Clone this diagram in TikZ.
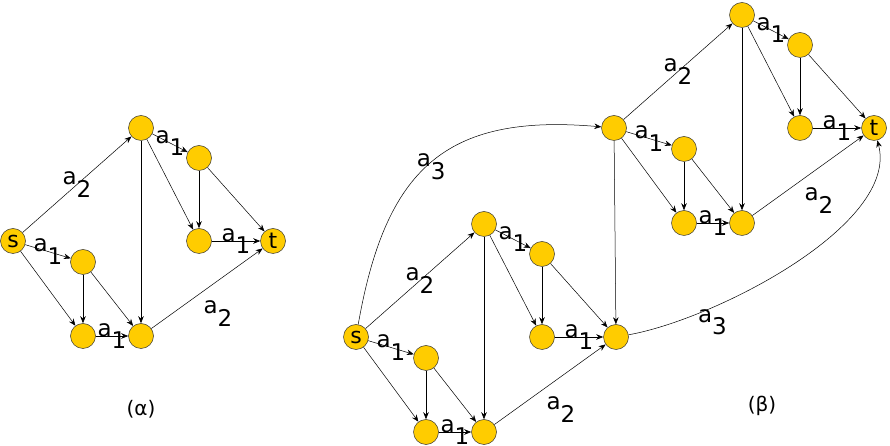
\documentclass[tikz,border=0pt]{standalone}
\usepackage{fontspec}
\setmainfont{DejaVu Sans}
\usetikzlibrary{arrows.meta}
\definecolor{gold}{RGB}{255,204,0}
\newcommand{\asub}[1]{a\raisebox{-0.55em}{#1}}

\tikzset{
  vert/.style={circle,draw=black!80,fill=gold,line width=0.5pt,minimum size=25pt,inner sep=0pt,font=\fontsize{22}{22}\selectfont},
  link/.style={-{Stealth[length=7pt,width=5.5pt]},line width=0.5pt},
  lab/.style={inner sep=0pt,font=\fontsize{23}{23}\selectfont},
  capt/.style={font=\fontsize{20}{20}\selectfont}
}

\begin{document}
\begin{tikzpicture}[x=1pt,y=1pt]
\useasboundingbox (0,0) rectangle (890,446);

%%% Left graph (alpha)
\node[vert] (sA) at (13,205) {s};
\node[vert] (lowA) at (83,184) {};
\node[vert] (botlA) at (83,110) {};
\node[vert] (botrA) at (141,110) {};
\node[vert] (topA) at (141,318) {};
\node[vert] (toprA) at (199,288) {};
\node[vert] (midrA) at (199,205) {};
\node[vert] (tA) at (273,205) {t};

\draw[link] (sA) -- node[lab] {\asub{1}} (lowA);
\draw[link] (sA) -- node[lab] {\asub{2}} (topA);
\draw[link] (sA) -- (botlA);
\draw[link] (lowA) -- (botlA);
\draw[link] (lowA) -- (botrA);
\draw[link] (botlA) -- node[lab] {\asub{1}} (botrA);
\draw[link] (topA) -- node[lab] {\asub{1}} (toprA);
\draw[link] (topA) -- (midrA);
\draw[link] (topA) -- (botrA);
\draw[link] (toprA) -- (midrA);
\draw[link] (toprA) -- (tA);
\draw[link] (midrA) -- node[lab] {\asub{1}} (tA);
\draw[link] (botrA) -- node[lab,xshift=11pt,yshift=-25pt] {\asub{2}} (tA);

\node[capt] (alphaCap) at (141,37) {(α)};

%%% Right graph (beta), lower part
\begin{scope}[shift={(343,-96)}]
\node[vert] (sB) at (13,205) {s};
\node[vert] (lowB) at (83,184) {};
\node[vert] (botlB) at (83,110) {};
\node[vert] (botrB) at (141,110) {};
\node[vert] (topB) at (141,318) {};
\node[vert] (toprB) at (199,288) {};
\node[vert] (midrB) at (199,205) {};
\node[vert] (tB) at (273,205) {};

\draw[link] (sB) -- node[lab] {\asub{1}} (lowB);
\draw[link] (sB) -- node[lab] {\asub{2}} (topB);
\draw[link] (sB) -- (botlB);
\draw[link] (lowB) -- (botlB);
\draw[link] (lowB) -- (botrB);
\draw[link] (botlB) -- node[lab] {\asub{1}} (botrB);
\draw[link] (topB) -- node[lab] {\asub{1}} (toprB);
\draw[link] (topB) -- (midrB);
\draw[link] (topB) -- (botrB);
\draw[link] (toprB) -- (midrB);
\draw[link] (toprB) -- (tB);
\draw[link] (midrB) -- node[lab] {\asub{1}} (tB);
\draw[link] (botrB) -- node[lab,xshift=11pt,yshift=-25pt] {\asub{2}} (tB);
\end{scope}

%%% Right graph (beta), upper part
\begin{scope}[shift={(601,113)}]
\node[vert] (sC) at (13,205) {};
\node[vert] (lowC) at (83,184) {};
\node[vert] (botlC) at (83,110) {};
\node[vert] (botrC) at (141,110) {};
\node[vert] (topC) at (141,318) {};
\node[vert] (toprC) at (199,288) {};
\node[vert] (midrC) at (199,205) {};
\node[vert] (tC) at (273,205) {t};

\draw[link] (sC) -- node[lab] {\asub{1}} (lowC);
\draw[link] (sC) -- node[lab] {\asub{2}} (topC);
\draw[link] (sC) -- (botlC);
\draw[link] (lowC) -- (botlC);
\draw[link] (lowC) -- (botrC);
\draw[link] (botlC) -- node[lab] {\asub{1}} (botrC);
\draw[link] (topC) -- node[lab] {\asub{1}} (toprC);
\draw[link] (topC) -- (midrC);
\draw[link] (topC) -- (botrC);
\draw[link] (toprC) -- (midrC);
\draw[link] (toprC) -- (tC);
\draw[link] (midrC) -- node[lab] {\asub{1}} (tC);
\draw[link] (botrC) -- node[lab,xshift=11pt,yshift=-25pt] {\asub{2}} (tC);
\end{scope}

%%% joining the two parts
\draw[link] (sB) .. controls +(80:170) and +(175:170) .. (sC) node[lab,pos=.5,yshift=-4pt] {\asub{3}};
\draw[link] (sC) -- (tB);
\draw[link] (tB) .. controls +(10:100) and +(-75:100) .. (tC) node[lab,pos=.28,xshift=-5pt,yshift=-17pt] {\asub{3}};

\node[capt] (betaCap) at (762,40) {(β)};
\end{tikzpicture}
\end{document}
